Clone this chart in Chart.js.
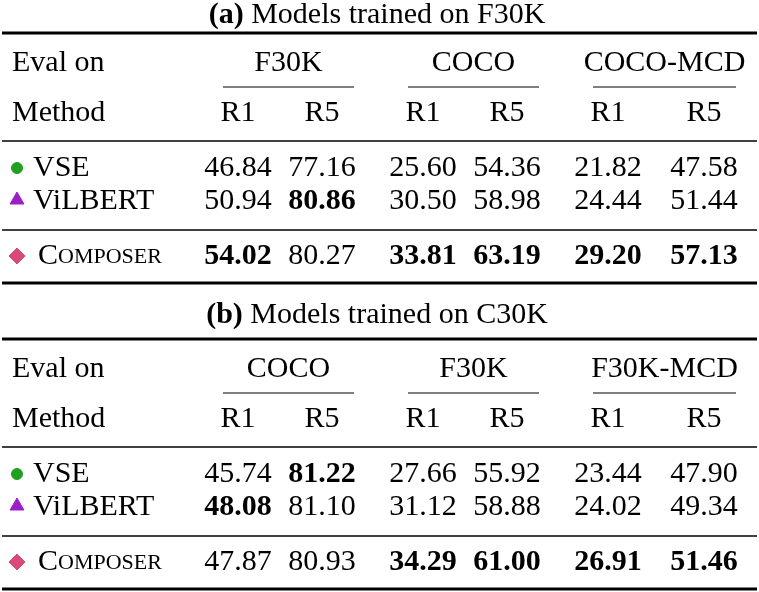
<!DOCTYPE html>
<html>
<head>
<meta charset="utf-8">
<script src="https://cdn.jsdelivr.net/npm/chart.js@4/dist/chart.umd.min.js"></script>
<style>
  html, body { margin: 0; padding: 0; background: #fff; }
  #wrap { width: 759px; height: 592px; }
</style>
</head>
<body>
<div id="wrap"><canvas id="tbl"></canvas></div>
<script>
// Table contents
const panelTitles = [['(a)', ' Models trained on F30K'], ['(b)', ' Models trained on C30K']];
const evalSets = [['F30K', 'COCO', 'COCO-MCD'], ['COCO', 'F30K', 'F30K-MCD']];
const metrics = ['R1', 'R5', 'R1', 'R5', 'R1', 'R5'];
const methods = ['VSE', 'ViLBERT', 'COMPOSER'];
const markerColors = ['#1fa01f', '#9b1fc8', '#d94a78'];
const markerStyles = ['circle', 'triangle', 'rectRot'];
const valuesA = [
  [46.84, 77.16, 25.60, 54.36, 21.82, 47.58],
  [50.94, 80.86, 30.50, 58.98, 24.44, 51.44],
  [54.02, 80.27, 33.81, 63.19, 29.20, 57.13]
];
const valuesB = [
  [45.74, 81.22, 27.66, 55.92, 23.44, 47.90],
  [48.08, 81.10, 31.12, 58.88, 24.02, 49.34],
  [47.87, 80.93, 34.29, 61.00, 26.91, 51.46]
];

// layout in table units (pixels of the 759x592 grid)
const colX = [238, 322, 423, 507, 608, 704];
const panelTop = [0, 306];
const titleY = [15, 315];
const rowY = { evalOn: 63, underline: 87, method: 113, r0: 168, r1: 201, r2: 256 };
const SERIF = '"Liberation Serif", "DejaVu Serif", serif';
const FS = 30;

const markerSets = methods.map((m, i) => ({
  label: m,
  data: panelTop.map(t => ({ x: 17, y: t + [rowY.r0, rowY.r1, rowY.r2][i] + (i === 1 ? -1 : 0) })),
  pointStyle: markerStyles[i],
  backgroundColor: markerColors[i],
  borderColor: markerColors[i],
  pointRadius: i === 0 ? 5.5 : 8
}));

const tablePlugin = {
  id: 'table',
  beforeDatasetsDraw(chart) {
    const ctx = chart.ctx, xs = chart.scales.x, ys = chart.scales.y;
    const X = v => xs.getPixelForValue(v), Y = v => ys.getPixelForValue(v);
    ctx.save();
    ctx.fillStyle = '#000';
    ctx.strokeStyle = '#000';
    ctx.textBaseline = 'middle';
    const hline = (x1, x2, y, w) => {
      ctx.lineWidth = w;
      ctx.beginPath(); ctx.moveTo(X(x1), Y(y)); ctx.lineTo(X(x2), Y(y)); ctx.stroke();
    };
    const text = (s, x, y, align, bold, size) => {
      ctx.font = (bold ? 'bold ' : '') + (size || FS) + 'px ' + SERIF;
      ctx.textAlign = align;
      ctx.fillText(s, X(x), Y(y));
    };
    panelTop.forEach((t, p) => {
      const vals = p === 0 ? valuesA : valuesB;
      // title
      ctx.font = 'bold ' + FS + 'px ' + SERIF;
      const w1 = ctx.measureText(panelTitles[p][0]).width;
      ctx.font = FS + 'px ' + SERIF;
      const w2 = ctx.measureText(panelTitles[p][1]).width;
      const sx = 377 - (w1 + w2) / 2;
      text(panelTitles[p][0], sx, titleY[p], 'left', true);
      text(panelTitles[p][1], sx + w1, titleY[p], 'left', false);
      hline(2, 757, t + 33, 3);
      text('Eval on', 12, t + rowY.evalOn, 'left');
      evalSets[p].forEach((e, k) => {
        const x1 = colX[2 * k] - 15, x2 = colX[2 * k + 1] + 32;
        text(e, (x1 + x2) / 2, t + rowY.evalOn, 'center');
        hline(x1, x2, t + rowY.underline, 1.2);
      });
      text('Method', 12, t + rowY.method, 'left');
      metrics.forEach((m, k) => text(m, colX[k], t + rowY.method, 'center'));
      hline(2, 757, t + 141, 1.3);
      hline(2, 757, t + 230, 1.3);
      const ry = [rowY.r0, rowY.r1, rowY.r2];
      const maxes = metrics.map((_, k) => Math.max(...vals.map(r => r[k])));
      vals.forEach((row, i) => {
        const y = t + ry[i];
        if (i === 2) {
          text('C', 38, y, 'left');
          ctx.font = FS + 'px ' + SERIF;
          const cw = ctx.measureText('C').width;
          text('OMPOSER', 38 + cw, y + 1.5, 'left', false, 22);
        } else {
          text(methods[i], 33, y, 'left');
        }
        row.forEach((v, k) => text(v.toFixed(2), colX[k], y, 'center', v === maxes[k]));
      });
      hline(2, 757, t + 283, 3);
    });
    ctx.restore();
  }
};

new Chart(document.getElementById('tbl'), {
  type: 'scatter',
  data: { datasets: markerSets },
  plugins: [tablePlugin],
  options: {
    responsive: true,
    maintainAspectRatio: false,
    animation: false,
    layout: { padding: 0, autoPadding: false },
    plugins: { legend: { display: false }, tooltip: { enabled: false } },
    scales: {
      x: { type: 'linear', min: 0, max: 759, display: false },
      y: { type: 'linear', min: 0, max: 592, reverse: true, display: false }
    }
  }
});
</script>
</body>
</html>
